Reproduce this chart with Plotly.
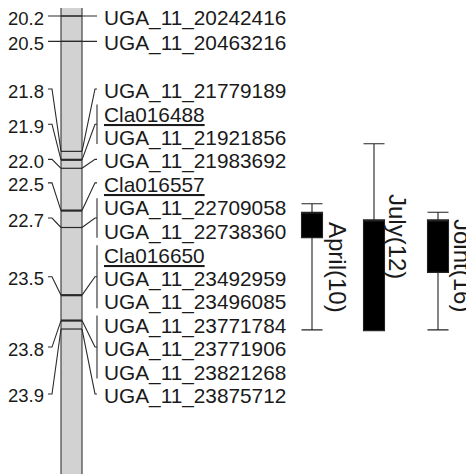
import plotly.graph_objects as go

# ── marker data (map position in cM) ─────────────────────────────────────────
marker_names = [
    "UGA_11_20242416", "UGA_11_20463216", "UGA_11_21779189",
    "Cla016488", "UGA_11_21921856", "UGA_11_21983692",
    "Cla016557", "UGA_11_22709058", "UGA_11_22738360",
    "Cla016650", "UGA_11_23492959", "UGA_11_23496085",
    "UGA_11_23771784", "UGA_11_23771906", "UGA_11_23821268",
    "UGA_11_23875712",
]
marker_cm = [20.2, 20.5, 21.8, 21.9, 21.9, 22.0, 22.5, 22.7, 22.7,
             23.5, 23.5, 23.5, 23.8, 23.8, 23.8, 23.9]
underlined = {"Cla016488", "Cla016557", "Cla016650"}

# ── QTL intervals (cM) ───────────────────────────────────────────────────────
qtl_names = ["April(10)", "July(12)", "Joint(16)"]
qtl_start = [22.42, 21.71, 22.52]
qtl_box_top = [22.52, 22.61, 22.61]
qtl_box_bottom = [22.82, 23.92, 23.23]
qtl_end = [23.91, 23.92, 23.91]

# ── layout helpers (pixel frame of the 474 px window) ────────────────────────
W = H = 474
OFF = 8            # default body margin of the html page
PX_PER_CM = 84.6
Y0_PX, Y0_CM = 16, 20.2


def cm(px):
    return Y0_CM + (px - Y0_PX) / PX_PER_CM


def px(c):
    return Y0_PX + (c - Y0_CM) * PX_PER_CM


CHR_L, CHR_R = 61, 82
LAB_X, NUM_X = 102, 46
CON_X = 48
BRK_X = 97
TXT_DY = 2         # text sits a touch below its connector
FONT = "Liberation Sans, Arial, sans-serif"
INK = "#1a1a1a"

# label slots: markers that fit stay level, the crowded ones are spread
slots = []
for i, c in enumerate(marker_cm):
    slots.append(px(c) if i < 2 else 89 + 23.46 * (i - 2))

groups = []
for i, c in enumerate(marker_cm):
    if groups and groups[-1][0] == c:
        groups[-1][1].append(i)
    else:
        groups.append((c, [i]))

fig = go.Figure()

# chromosome body
fig.add_shape(type="rect", x0=CHR_L, x1=CHR_R, y0=cm(-5), y1=cm(H + 5),
              fillcolor="#d2d2d2", line=dict(color="#444", width=1.2),
              layer="below")

thick = {21.9, 22.5, 23.5, 23.8}
for c, _ in groups:
    fig.add_trace(go.Scatter(
        x=[CHR_L, CHR_R], y=[c, c], mode="lines", hoverinfo="skip",
        line=dict(color="#2a2a2a", width=2.2 if c in thick else 1.2),
    ))

# connectors
cx, cy = [], []
for c, idx in groups:
    ly = sum(slots[i] for i in idx) / len(idx)
    if abs(ly - px(c)) < 1:
        cx += [CON_X, BRK_X, None]
        cy += [c, c, None]
    else:
        cx += [CON_X, CON_X + 4, CHR_L, None, CHR_R, BRK_X - 2, BRK_X, None]
        cy += [cm(ly), cm(ly), c, None, c, cm(ly), cm(ly), None]
    if len(idx) > 1:
        cx += [BRK_X, BRK_X, None]
        cy += [cm(slots[idx[0]] - 8), cm(slots[idx[-1]] + 8), None]
    fig.add_annotation(x=NUM_X, y=cm(ly + TXT_DY), text=f"{c:.1f}",
                       showarrow=False, xanchor="right", yanchor="middle",
                       font=dict(family=FONT, size=18.5, color=INK))

fig.add_trace(go.Scatter(x=cx, y=cy, mode="lines", hoverinfo="skip",
                         line=dict(color="#2a2a2a", width=1.1)))

for name, s in zip(marker_names, slots):
    txt = f"<u>{name}</u>" if name in underlined else name
    fig.add_annotation(x=LAB_X, y=cm(s + TXT_DY), text=txt, showarrow=False,
                       xanchor="left", yanchor="middle",
                       font=dict(family=FONT, size=20.8, color=INK))

# QTL boxes (median put on the box edge so no inner line shows)
box_x = [312, 374, 438]
fig.add_trace(go.Box(
    x=box_x, q1=qtl_box_top, q3=qtl_box_bottom, median=qtl_box_top,
    lowerfence=qtl_start, upperfence=qtl_end,
    width=21, whiskerwidth=1, fillcolor="black",
    line=dict(color="#222", width=1.1), hoverinfo="skip",
))

label_pos = [(338, 267), (398, 236), (463, 265)]
for name, (lx, ly) in zip(qtl_names, label_pos):
    fig.add_annotation(x=lx, y=cm(ly), text=name, textangle=90,
                       showarrow=False, xanchor="center", yanchor="middle",
                       font=dict(family=FONT, size=24, color=INK))

fig.update_layout(
    width=W - OFF, height=H - OFF, margin=dict(l=0, r=0, t=0, b=0),
    showlegend=False, plot_bgcolor="white", paper_bgcolor="white",
    xaxis=dict(range=[OFF, W], visible=False, fixedrange=True),
    yaxis=dict(range=[cm(H), cm(OFF)], visible=False, fixedrange=True),
)

fig.write_html("out.html")
